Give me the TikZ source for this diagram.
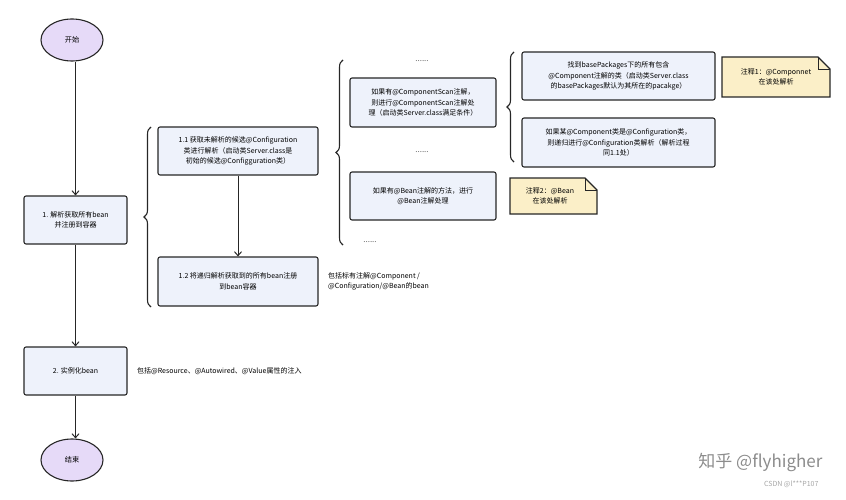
\documentclass[tikz,border=0pt]{standalone}
\usepackage{fontspec}
\setmainfont{Noto Sans CJK SC}
\usetikzlibrary{decorations.pathreplacing,arrows.meta,shapes.geometric}
\definecolor{bx}{HTML}{EEF2FB}
\definecolor{nt}{HTML}{FBEFC8}
\definecolor{pu}{HTML}{E6DAF8}
\tikzset{
 stepbox/.style={draw=black!85,line width=1.1pt,fill=bx,rounded corners=2pt,align=center,font=\fontsize{7}{10.5}\selectfont,inner sep=2pt},
 term/.style={draw=black!85,line width=1.1pt,fill=pu,ellipse,minimum width=62pt,minimum height=42pt,font=\fontsize{7.2}{9}\selectfont},
 lbl/.style={align=left,anchor=west,font=\fontsize{7}{10.5}\selectfont,inner sep=0pt},
 arr/.style={-{Straight Barb[length=4pt,width=7pt]},line width=1pt,black!85},
 brc/.style={decorate,decoration={brace,amplitude=7pt},line width=1.1pt,black!85},
 dots/.style={font=\fontsize{8}{8}\selectfont,text=black!60}
}
\begin{document}
\begin{tikzpicture}[x=1pt,y=-1pt]
\useasboundingbox (0,0) rectangle (846,500);
\node[term] (start) at (72,40) {开始};
\node[stepbox,minimum width=103pt,minimum height=48pt] (b1) at (75.5,220) {1. 解析获取所有bean\\ 并注册到容器};
\node[stepbox,minimum width=103pt,minimum height=48pt] (b2) at (75.5,371) {2. 实例化bean};
\node[term] (end) at (72,460) {结束};
\draw[arr] (b1.north |- start.south) -- (b1.north);
\draw[arr] (b1) -- (b2);
\draw[arr] (b2.south) -- (b2.south |- end.north);
\node[lbl] (l2) at (137,371) {包括@Resource、@Autowired、@Value属性的注入};
\draw[brc] (151,307) -- (151,127);
\node[stepbox,minimum width=160pt,minimum height=48pt] (b11) at (238,151) {1.1 获取未解析的候选@Configuration\\类进行解析（启动类Server.class是\\初始的候选@Configguration类）};
\node[stepbox,minimum width=160pt,minimum height=49pt] (b12) at (238,281.5) {1.2 将递归解析获取到的所有bean注册\\到bean容器};
\draw[arr] (b11) -- (b12);
\node[lbl] (l12) at (328,281.5) {包括标有注解@Component /\\@Configuration/@Bean的bean};
\draw[brc] (343,245) -- (343,60);
\node[dots] (d1) at (422,61) {......};
\node[dots] (d2) at (422,152) {......};
\node[dots] (d3) at (370,242) {......};
\node[stepbox,minimum width=146pt,minimum height=49pt] (ba) at (423,102.5) {如果有@ComponentScan注解，\\则进行@ComponentScan注解处\\理（启动类Server.class满足条件）};
\node[stepbox,minimum width=146pt,minimum height=48pt] (bb) at (423,196) {如果有@Bean注解的方法，进行\\@Bean注解处理};
\draw[brc] (514,162) -- (514,52);
\node[stepbox,minimum width=193pt,minimum height=48pt] (bc) at (618.5,76) {找到basePackages下的所有包含\\@Component注解的类（启动类Server.class\\的basePackages默认为其所在的pacakge）};
\node[stepbox,minimum width=193pt,minimum height=49pt] (bd) at (618.5,142.5) {如果某@Component类是@Configuration类，\\则递归进行@Configuration类解析（解析过程\\同1.1处）};
\draw[line width=1.1pt,black!85,fill=nt] (722,57) -- (818,57) -- (830,69) -- (830,97) -- (722,97) -- cycle;
\draw[line width=0.8pt,black!85] (818,57) -- (818,69) -- (830,69);
\node[align=center,font=\fontsize{7}{10.5}\selectfont] (n1) at (776,77) {注释1：@Componnet\\在该处解析};
\draw[line width=1.1pt,black!85,fill=nt] (510,178) -- (585,178) -- (597,190) -- (597,214) -- (510,214) -- cycle;
\draw[line width=0.8pt,black!85] (585,178) -- (585,190) -- (597,190);
\node[align=center,font=\fontsize{7}{10.5}\selectfont] (n2) at (550,196) {注释2：@Bean\\在该处解析};
\node[text=black!45,font=\fontsize{17}{17}\selectfont,anchor=east] (wm) at (826,462) {知乎 @flyhigher};
\node[text=black!35,font=\fontsize{7}{7}\selectfont,anchor=east] (wm2) at (822,484) {CSDN @l***P107};
\end{tikzpicture}
\end{document}
